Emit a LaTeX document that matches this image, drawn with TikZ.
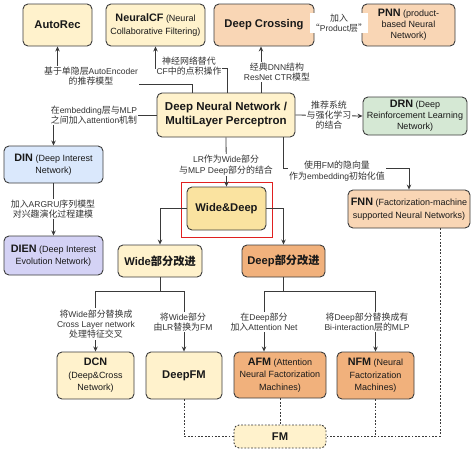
\documentclass[tikz,border=0pt]{standalone}
\usepackage{fontspec}
\setmainfont{Liberation Sans}
\newfontfamily\cjk{Noto Sans CJK SC}
\newfontfamily\cjkl[Scale=1.05]{Noto Sans CJK SC}
\usetikzlibrary{arrows.meta,calc}
\newcommand\zh[1]{{\cjkl #1}}
\newcommand\zb[1]{{\cjk #1}}
\newcommand\ttl[1]{{\fontsize{10.8}{12.5}\selectfont\bfseries #1}}
\newcommand\bigttl[1]{{\fontsize{11.2}{13}\selectfont\bfseries #1}}
\definecolor{yl}{HTML}{FFF2CC}
\definecolor{wdy}{HTML}{FAE3A0}
\definecolor{peach}{HTML}{F9D6B5}
\definecolor{orng}{HTML}{F1B17C}
\definecolor{grn}{HTML}{D5E8D4}
\definecolor{blu}{HTML}{DAE8FC}
\definecolor{purp}{HTML}{D4D2F5}
\definecolor{bordc}{HTML}{3C3C3C}
\definecolor{linec}{HTML}{3A3A3A}
\definecolor{labc}{HTML}{333333}
\definecolor{redc}{HTML}{E02020}
\begin{document}
\begin{tikzpicture}[x=1pt,y=-1pt,
  box/.style={draw=bordc, line width=0.9pt, rounded corners=5pt, align=center,
    inner sep=2pt, text=black!90, font=\fontsize{9}{12.5}\selectfont},
  lbl/.style={fill=white, align=center, inner sep=1pt, text=labc,
    font=\fontsize{8.5}{10.4}\selectfont},
  arr/.style={draw=linec, line width=0.8pt, -{Stealth[length=5pt,width=4.5pt]}},
  dotl/.style={draw=linec, line width=0.9pt, dash pattern=on 1.8pt off 1.6pt}]
\useasboundingbox (0,0) rectangle (474,453);

% boxes
\node[box, fill=yl, minimum width=69, minimum height=42] (autorec) at (57.5,25) {\bigttl{AutoRec}};
\node[box, fill=yl, minimum width=99, minimum height=42] (ncf) at (155.5,25) {\ttl{NeuralCF} (Neural\\Collaborative Filtering)};
\node[box, fill=peach, minimum width=100, minimum height=42] (dc) at (264,25) {\bigttl{Deep Crossing}};
\node[box, fill=peach, minimum width=93, minimum height=42] (pnn) at (408.5,25) {\ttl{PNN} (product-\\[-1.5pt]based Neural\\[-1.5pt]Network)};
\node[box, fill=yl, minimum width=138, minimum height=44, font=\fontsize{11.5}{14}\selectfont\bfseries] (dnn) at (226,115) {Deep Neural Network /\\MultiLayer Perceptron};
\node[box, fill=grn, minimum width=104, minimum height=38] (drn) at (415,116) {\ttl{DRN} (Deep\\[-1.5pt]Reinforcement Learning\\[-1.5pt]Network)};
\node[box, fill=blu, minimum width=99, minimum height=37] (din) at (53.5,164.5) {\ttl{DIN} (Deep Interest\\Network)};
\node[box, fill=purp, minimum width=99, minimum height=39] (dien) at (53.5,255.5) {\ttl{DIEN} (Deep Interest\\Evolution Network)};
\node[box, fill=wdy, minimum width=79, minimum height=43] (wd) at (226.5,208.5) {\bigttl{Wide\&Deep}};
\node[box, fill=peach, minimum width=122, minimum height=38] (fnn) at (409,209) {\ttl{FNN} (Factorization-machine\\supported Neural Networks)};
\node[box, fill=yl, minimum width=84, minimum height=32] (wide) at (160,261) {\bigttl{Wide\zb{部分改进}}};
\node[box, fill=orng, minimum width=83, minimum height=32] (deep) at (283.5,261) {\bigttl{Deep\zb{部分改进}}};
\node[box, fill=yl, minimum width=77, minimum height=47] (dcn) at (95.5,375.5) {\ttl{DCN}\\(Deep\&Cross\\Network)};
\node[box, fill=yl, minimum width=76, minimum height=47] (deepfm) at (184,375.5) {\bigttl{DeepFM}};
\node[box, fill=orng, minimum width=92, minimum height=46] (afm) at (280,375) {\ttl{AFM} (Attention\\Neural Factorization\\Machines)};
\node[box, fill=orng, minimum width=77, minimum height=47] (nfm) at (375.5,375.5) {\ttl{NFM} (Neural\\Factorization\\Machines)};
\node[box, fill=yl, dotl, minimum width=92, minimum height=23] (fm) at (280,436.5) {\bigttl{FM}};

\draw[draw=redc, line width=1.2pt] ($(wd.north west)+(-5,-4)$) rectangle ($(wd.south east)+(6,7)$);

% bend coordinates
\coordinate (c1) at (192,84);
\coordinate (c2) at (227,68);
\coordinate (c3) at (261,0);
\coordinate (c4) at (283,168);
\coordinate (c5) at (0,291);
\coordinate (c6) at (264,291);
\coordinate (c8) at (440,0);

% connectors
\draw[arr] (dnn.north -| c1) |- (autorec.south |- c1) -- (autorec.south);
\draw[arr] (dnn.north -| c2) |- (ncf.south |- c2) -- (ncf.south);
\draw[arr] (dnn.north -| c3) -- (dc.south -| c3);
\draw[arr] (dc.east) -- (pnn.west);
\draw[arr] (dnn.east) -- (drn.west);
\draw[arr] (dnn.west) -| (din.north);
\draw[arr] (din.south) -- (dien.north);
\draw[arr] (dnn.south) -- (wd.north);
\draw[arr] (dnn.south -| c4) |- (fnn.north |- c4) -- (fnn.north);
\draw[arr] (wd.west) -| (wide.north);
\draw[arr] (wd.east) -| (deep.north);
\draw[arr] (wide.south) |- (dcn.north |- c5) -- (dcn.north);
\draw[arr] (wide.south) |- (deepfm.north |- c5) -- (deepfm.north);
\draw[arr] (deep.south) |- (c6) -- (afm.north -| c6);
\draw[arr] (deep.south) |- (nfm.north |- c6) -- (nfm.north);

\draw[dotl] (deepfm.south) |- (fm.west);
\draw[dotl] (afm.south) -- (fm.north);
\draw[dotl] (nfm.south) -- (nfm.south |- fm.east);
\draw[dotl] (fnn.south -| c8) |- (fm.east);

% labels
\node[lbl] (l1) at (91,76) {\zh{基于单隐层}AutoEncoder\\\zh{的推荐模型}};
\node[lbl] (l2) at (189,66) {\zh{神经网络替代}\\CF\zh{中的点积操作}};
\node[lbl] (l3) at (277,72) {\zh{经典}DNN\zh{结构}\\ResNet CTR\zh{模型}};
\node[lbl] (l4) at (339,23) {\zh{加入}\\\zh{“}Product\zh{层”}};
\node[lbl] (l5) at (329,115) {\zh{推荐系统}\\\zh{与强化学习}\\\zh{的结合}};
\node[lbl] (l6) at (94,115) {\zh{在}embedding\zh{层与}MLP\\\zh{之间加入}attention\zh{机制}};
\node[lbl] (l7) at (53,209) {\zh{加入}ARGRU\zh{序列模型}\\\zh{对兴趣演化过程建模}};
\node[lbl] (l8) at (226,165) {LR\zh{作为}Wide\zh{部分}\\\zh{与}MLP Deep\zh{部分的结合}};
\node[lbl] (l9) at (337,171) {\zh{使用}FM\zh{的隐向量}\\\zh{作为}embedding\zh{初始化值}};
\node[lbl] (l10) at (96,324) {\zh{将}Wide\zh{部分替换成}\\Cross Layer network\\\zh{处理特征交叉}};
\node[lbl] (l11) at (183,322) {\zh{将}Wide\zh{部分}\\\zh{由}LR\zh{替换为}FM};
\node[lbl] (l12) at (264,322) {\zh{在}Deep\zh{部分}\\\zh{加入}Attention Net};
\node[lbl] (l13) at (367,322) {\zh{将}Deep\zh{部分替换成有}\\Bi-interaction\zh{层的}MLP};
\end{tikzpicture}
\end{document}
